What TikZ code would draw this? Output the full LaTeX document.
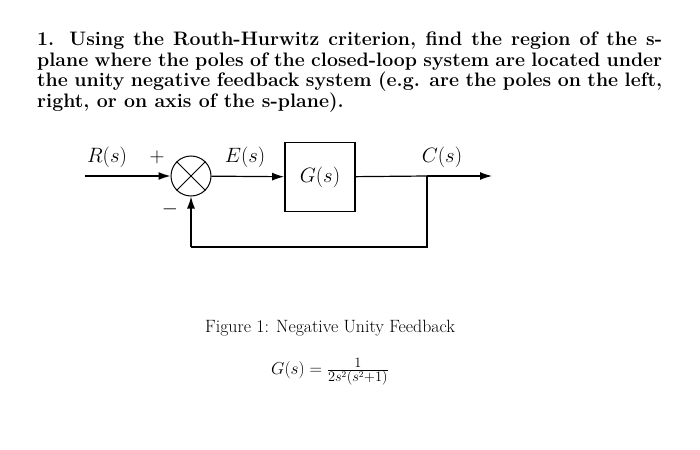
\documentclass[tikz,border=0pt]{standalone}
\usepackage{fontspec}
\newfontfamily\tms{Liberation Serif}
\usetikzlibrary{arrows.meta}
\begin{document}
\begin{tikzpicture}[x=1pt,y=-1pt,
  ln/.style={line width=1.2pt},
  arr/.style={ln,-{Latex[length=12pt,width=8pt]}},
  lab/.style={font=\tms\fontsize{21}{22}\selectfont}]
\useasboundingbox (0,0) rectangle (700,449);
\node[anchor=north west,inner sep=0pt,align=left,font=\bfseries\fontsize{19.5}{20.5}\selectfont] (txt) at (37,32) {%
\makebox[625pt][s]{1. Using the Routh-Hurwitz criterion, find the region of the s-}\\
\makebox[625pt][s]{plane where the poles of the closed-loop system are located under}\\
\makebox[625pt][s]{the unity negative feedback system (e.g. are the poles on the left,}\\
right, or on axis of the s-plane).};
\node[draw,circle,line width=1pt,minimum size=40pt,inner sep=0pt] (sum) at (191,176) {};
\draw[line width=1pt] (sum.45)--(sum.225) (sum.135)--(sum.-45);
\node[draw,line width=1.8pt,minimum width=70pt,minimum height=69pt,lab] (G) at (320,177) {$G(s)$};
\coordinate (in) at (85,176);
\coordinate (br) at (427,176);
\coordinate (out) at (492,176);
\coordinate (bl) at (427,247);
\coordinate (bb) at (191,247);
\draw[arr] (in)--(sum);
\draw[arr] (sum)--(G);
\draw[ln] (G)--(br);
\draw[arr] (br)--(out);
\draw[ln] (br)--(bl)--(bb);
\draw[arr] (bb)--(sum);
\node[lab] (R) at (107,157) {$R(s)$};
\node[lab] (p) at (157,157) {$+$};
\node[lab] (E) at (245,157) {$E(s)$};
\node[lab] (C) at (442,157) {$C(s)$};
\node[lab] (m) at (170,209) {$-$};
\node[font=\fontsize{17.8}{20}\selectfont] (cap) at (330,328) {Figure 1: Negative Unity Feedback};
\node[font=\fontsize{19}{20}\selectfont] (eq) at (330,372) {$G(s)=\frac{1}{2s^2(s^2+1)}$};
\end{tikzpicture}
\end{document}
